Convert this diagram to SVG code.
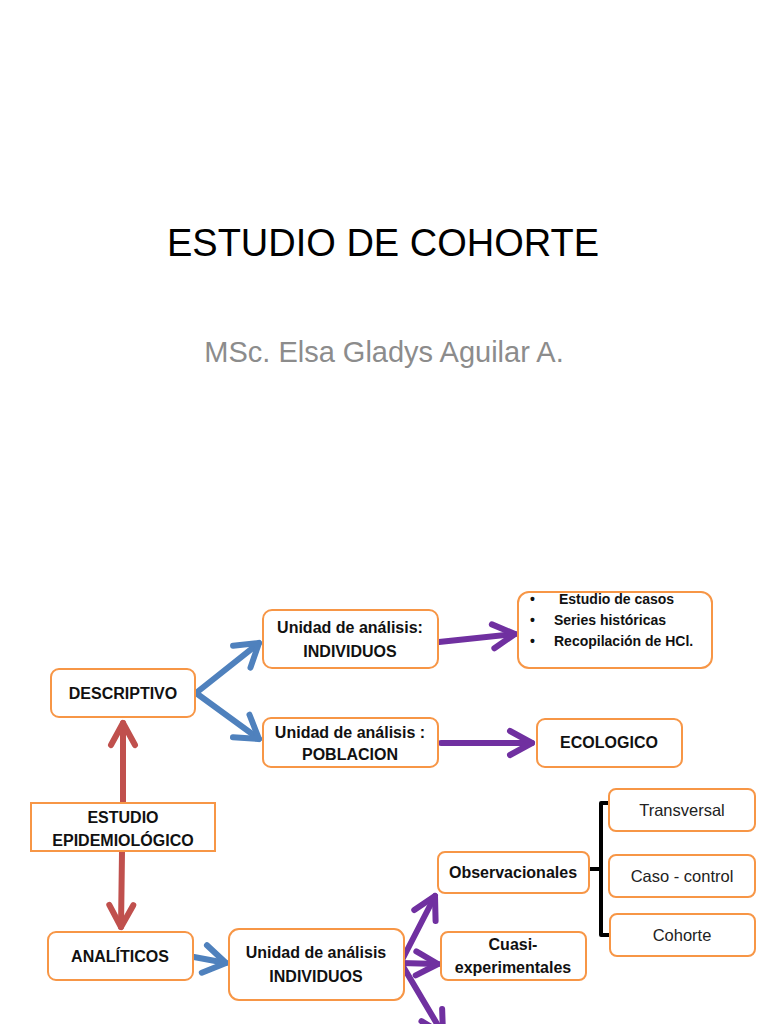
<svg xmlns="http://www.w3.org/2000/svg" width="768" height="1024" viewBox="0 0 768 1024">
<style>
.box{fill:#fff;stroke:#F79646;stroke-width:2}
.t{font-family:"Liberation Sans",Arial,sans-serif;font-size:16px;font-weight:bold;fill:#111;text-anchor:middle}
.tb{font-family:"Liberation Sans",Arial,sans-serif;font-size:14px;font-weight:bold;fill:#111}
.tr{font-family:"Liberation Sans",Arial,sans-serif;font-size:16.5px;fill:#222;text-anchor:middle}
.c{fill:none;stroke-width:6;stroke-linecap:round}
.red{stroke:#C0504D}.blue{stroke:#4F81BD}.pur{stroke:#7030A0}
</style>
<defs>
<marker id="ahr" markerUnits="userSpaceOnUse" orient="auto" overflow="visible" refX="0" refY="0" markerWidth="1" markerHeight="1"><path d="M-22,-12 L0,0 L-22,12" fill="none" stroke="#C0504D" stroke-width="6" stroke-linecap="round" stroke-linejoin="round"/></marker>
<marker id="ahb" markerUnits="userSpaceOnUse" orient="auto" overflow="visible" refX="0" refY="0" markerWidth="1" markerHeight="1"><path d="M-22,-14 L0,0 L-22,14" fill="none" stroke="#4F81BD" stroke-width="6" stroke-linecap="round" stroke-linejoin="round"/></marker>
<marker id="ahp" markerUnits="userSpaceOnUse" orient="auto" overflow="visible" refX="0" refY="0" markerWidth="1" markerHeight="1"><path d="M-22,-12 L0,0 L-22,12" fill="none" stroke="#7030A0" stroke-width="6" stroke-linecap="round" stroke-linejoin="round"/></marker>
</defs>
<rect width="768" height="1024" fill="#fff"/>
<text x="383" y="256" font-family="Liberation Sans,Arial,sans-serif" font-size="38" fill="#000" text-anchor="middle">ESTUDIO DE COHORTE</text>
<text x="384" y="362" font-family="Liberation Sans,Arial,sans-serif" font-size="29" fill="#8C8C8C" text-anchor="middle">MSc. Elsa Gladys Aguilar A.</text>
<g id="connectors">
<path class="c red" d="M123,802 L123,723" marker-end="url(#ahr)"/>
<path class="c red" d="M122,852 L121,927" marker-end="url(#ahr)"/>
<path class="c blue" d="M196,693 L259,643" marker-end="url(#ahb)"/>
<path class="c blue" d="M196,693 L259,739" marker-end="url(#ahb)"/>
<path class="c blue" d="M194,957 L226,963" marker-end="url(#ahb)"/>
<path class="c pur" d="M439,642 L515,634" marker-end="url(#ahp)"/>
<path class="c pur" d="M441,743 L532,743" marker-end="url(#ahp)"/>
<path class="c pur" d="M401,962 L435,896" marker-end="url(#ahp)"/>
<path class="c pur" d="M401,963 L438,964" marker-end="url(#ahp)"/>
<path class="c pur" d="M401,963 L443,1034" marker-end="url(#ahp)"/>
<path d="M609,803 L601,803 L601,935 L609,935 M590,869 L601,869" fill="none" stroke="#000" stroke-width="4" stroke-linejoin="round"/>
</g>
<g id="descriptivo"><rect class="box" x="51" y="669" width="144" height="48" rx="8"/><text class="t" x="123" y="699">DESCRIPTIVO</text></g>
<g id="ua-individuos"><rect class="box" x="263" y="610" width="175" height="58" rx="9"/><text class="t" x="350" y="633">Unidad de análisis:</text><text class="t" x="350" y="657">INDIVIDUOS</text></g>
<g id="ua-poblacion"><rect class="box" x="263" y="718" width="175" height="49" rx="8"/><text class="t" x="350" y="738">Unidad de análisis :</text><text class="t" x="350" y="760">POBLACION</text></g>
<g id="lista"><rect class="box" x="518" y="592" width="194" height="76" rx="11"/>
<text class="tb" x="530" y="604">•</text><text class="tb" x="559" y="604">Estudio de casos</text>
<text class="tb" x="530" y="625">•</text><text class="tb" x="554" y="625">Series históricas</text>
<text class="tb" x="530" y="646">•</text><text class="tb" x="554" y="646">Recopilación de HCl.</text></g>
<g id="ecologico"><rect class="box" x="537" y="719" width="145" height="48" rx="8"/><text class="t" x="609" y="748">ECOLOGICO</text></g>
<g id="estudio-epi"><rect class="box" x="31" y="803" width="184" height="48"/><text class="t" x="123" y="823">ESTUDIO</text><text class="t" x="123" y="846">EPIDEMIOLÓGICO</text></g>
<g id="analiticos"><rect class="box" x="48" y="932" width="145" height="48" rx="8"/><text class="t" x="120" y="962">ANALÍTICOS</text></g>
<g id="ua-individuos2"><rect class="box" x="229" y="929" width="175" height="71" rx="10"/><text class="t" x="316" y="958">Unidad de análisis</text><text class="t" x="316" y="982">INDIVIDUOS</text></g>
<g id="observacionales"><rect class="box" x="438" y="852" width="151" height="41" rx="7"/><text class="t" x="513" y="878">Observacionales</text></g>
<g id="cuasi"><rect class="box" x="441" y="932" width="145" height="48" rx="7"/><text class="t" x="513" y="950">Cuasi-</text><text class="t" x="513" y="973">experimentales</text></g>
<g id="transversal"><rect class="box" x="609" y="789" width="146" height="42" rx="7"/><text class="tr" x="682" y="816">Transversal</text></g>
<g id="caso-control"><rect class="box" x="609" y="855" width="146" height="42" rx="7"/><text class="tr" x="682" y="882">Caso - control</text></g>
<g id="cohorte"><rect class="box" x="610" y="914" width="145" height="42" rx="7"/><text class="tr" x="682" y="941">Cohorte</text></g>
</svg>
